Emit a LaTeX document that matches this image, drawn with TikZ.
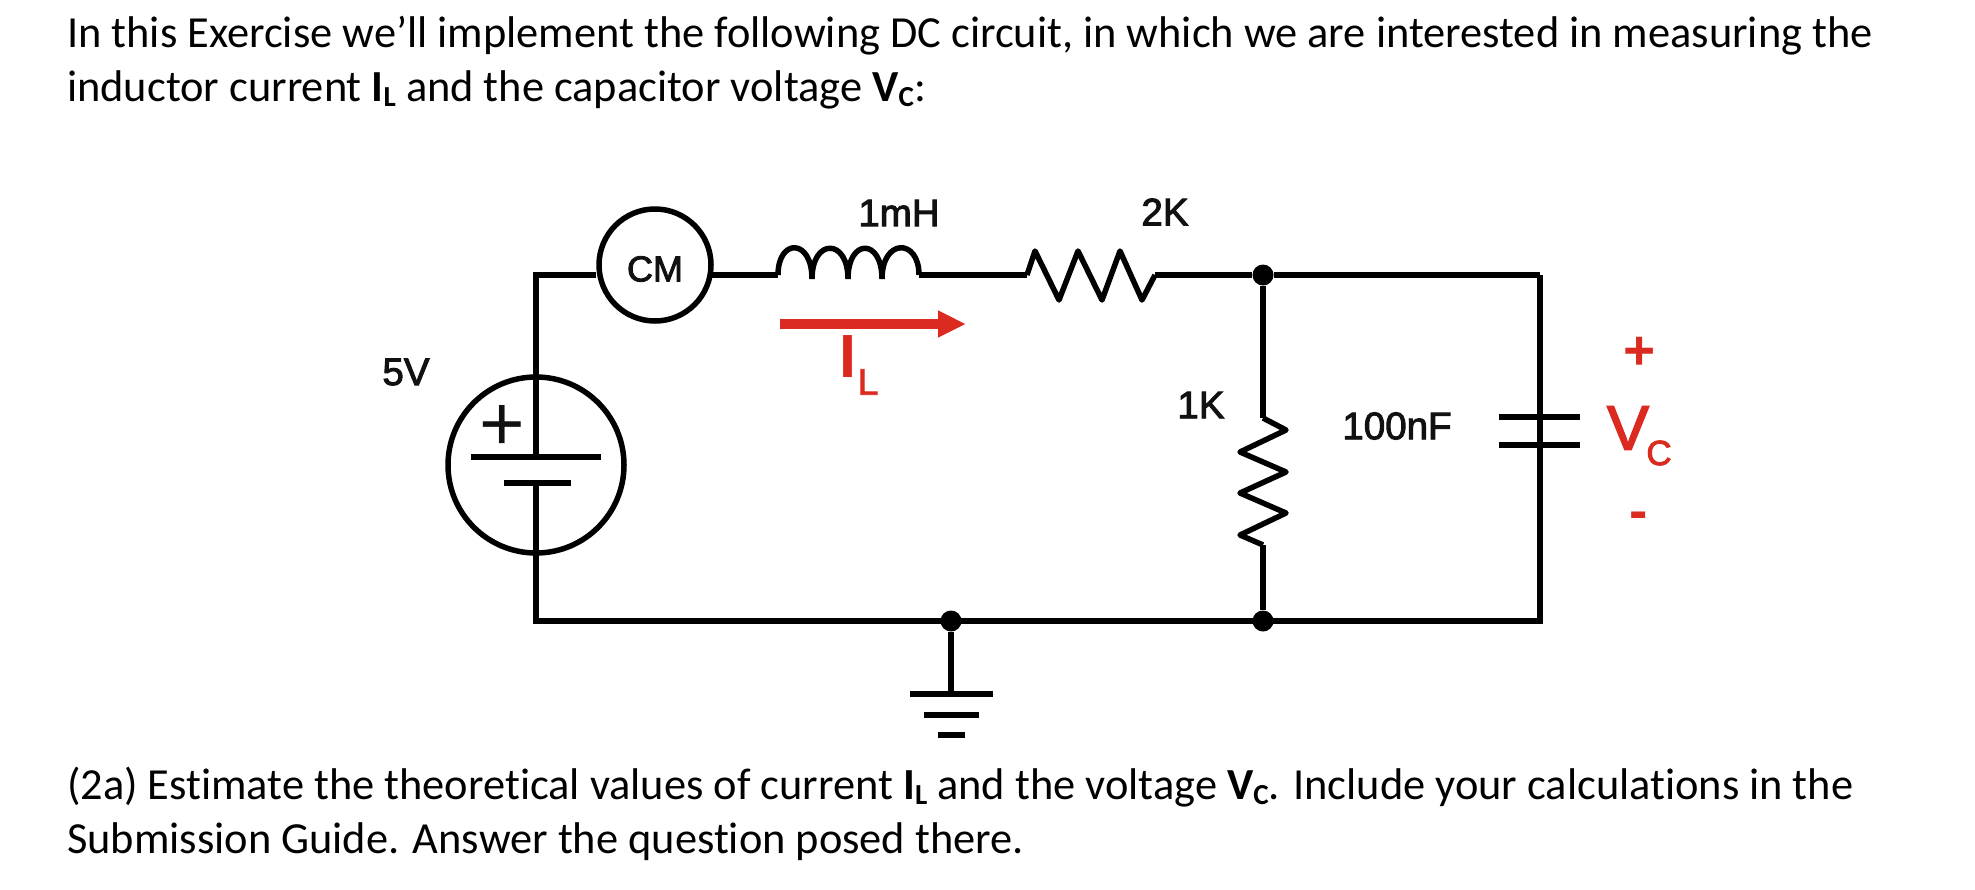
\documentclass[tikz,border=0pt]{standalone}
\usepackage{fontspec}
\setmainfont{Carlito}[Ligatures=TeX,RawFeature={-liga}]
\newfontfamily\arialf{Liberation Sans}[RawFeature={embolden=2.5}]
\newfontfamily\arialp{Liberation Sans}
\usetikzlibrary{arrows.meta}
\definecolor{redc}{RGB}{219,43,33}
\definecolor{inkc}{RGB}{17,17,17}
\newcommand{\subb}[1]{\raisebox{-0.13em}{\fontsize{29}{29}\selectfont #1}}
\tikzset{
  body/.style={anchor=base west,inner sep=0pt,font=\fontsize{44.4}{50}\selectfont,text=black},
  lab/.style={inner sep=0pt,text=inkc,font=\arialf\fontsize{38.5}{38.5}\selectfont},
  rlab/.style={inner sep=0pt,text=redc,font=\arialf\fontsize{#1}{#1}\selectfont},
  wire/.style={draw=black,line width=6.5pt,line cap=butt,line join=miter},
  thinw/.style={draw=black,line width=5.5pt,line join=round},
  ring/.style={circle,draw=black,line width=5.5pt,inner sep=0pt,fill=none},
  dot/.style={circle,fill=black,inner sep=0pt,minimum size=21pt},
}
\begin{document}
\begin{tikzpicture}[x=1pt,y=-1pt]
\useasboundingbox (0,0) rectangle (1975,889);
% body text
\node[body] (t1) at (67,47) {In this Exercise we’ll implement the following DC circuit, in which we are interested in measuring the};
\node[body] (t2) at (67,101) {inductor current \textbf{I\subb{L}} and the capacitor voltage \textbf{V\subb{C}}:};
\node[body] (t3) at (67,799) {(2a) Estimate the theoretical values of current \textbf{I\subb{L}} and the voltage \textbf{V\subb{C}}. Include your calculations in the};
\node[body] (t4) at (67,853) {Submission Guide. Answer the question posed there.};
% junctions and corners
\coordinate (tl) at (536,275);
\coordinate (bl) at (536,621);
\coordinate (tr) at (1540,275);
\coordinate (br) at (1540,621);
\node[dot] (jt) at (1263,275) {};
\node[dot] (jb) at (1263,621) {};
\node[dot] (jg) at (951,621) {};
% meter and source
\node[ring,minimum size=112pt] (cm) at (655,265) {};
\node[lab,font=\arialf\fontsize{36}{36}\selectfont] (cmt) at (655,269) {CM};
\node[ring,minimum size=176pt] (src) at (536,465) {};
\coordinate (sp) at (536,457);
\coordinate (sm) at (536,483);
\coordinate (spl) at (471,457); \coordinate (spr) at (601,457);
\coordinate (sml) at (504,483); \coordinate (smr) at (571,483);
\draw[wire] (cm.west |- tl) -- (tl) -- (sp);
\draw[wire] (spl) -- (spr);
\draw[wire] (sml) -- (smr);
\draw[wire] (sm) -- (bl) -- (br) -- (tr) -- (1540,417);
\node[inner sep=0pt,text=inkc,font=\arialp\fontsize{78}{78}\selectfont] (plus) at (502,428) {+};
% inductor
\coordinate (la) at (778,275);
\coordinate (lb) at (919,275);
\draw[wire] (712,275) -- (la);
\draw[thinw] (la) .. controls (778,238) and (812,238) .. (812,279)
  (812,279) .. controls (812,238) and (848,238) .. (848,279)
  (848,279) .. controls (848,238) and (882,238) .. (882,279)
  (882,279) .. controls (882,238) and (919,238) .. (lb);
% resistor 2K
\coordinate (ra) at (1027,275);
\coordinate (rb) at (1155,275);
\draw[wire] (lb) -- (ra);
\draw[thinw] (ra) -- (1035,251) -- (1059,300) -- (1078,251) -- (1102,300) -- (1120,251) -- (1142,300) -- (rb);
\draw[wire] (rb) -- (jt) -- (tr);
% resistor 1K
\coordinate (va) at (1263,418);
\coordinate (vb) at (1263,545);
\draw[wire] (jt) -- (va);
\draw[thinw] (va) -- (1286,430) -- (1240,452) -- (1286,472) -- (1240,493) -- (1286,513) -- (1240,535) -- (vb);
\draw[wire] (vb) -- (jb);
% capacitor
\coordinate (c1l) at (1499,417); \coordinate (c1r) at (1580,417);
\coordinate (c2l) at (1499,445); \coordinate (c2r) at (1580,445);
\draw[wire] (c1l) -- (c1r);
\draw[wire] (c2l) -- (c2r);
% ground
\coordinate (g1) at (951,694);
\coordinate (g1l) at (910,694); \coordinate (g1r) at (993,694);
\coordinate (g2l) at (924,715); \coordinate (g2r) at (979,715);
\coordinate (g3l) at (938,735); \coordinate (g3r) at (965,735);
\draw[wire] (jg) -- (g1);
\draw[wire] (g1l) -- (g1r);
\draw[wire] (g2l) -- (g2r);
\draw[wire] (g3l) -- (g3r);
% red current arrow
\coordinate (ia) at (780,324);
\coordinate (ib) at (966,324);
\draw[draw=redc,line width=10pt,-{Triangle[length=28pt,width=25pt]}] (ia) -- (ib);
% labels
\node[lab] (l1) at (899,213) {1mH};
\node[lab] (l2) at (1165,212) {2K};
\node[lab] (l3) at (406,372) {5V};
\node[lab] (l4) at (1201,405) {1K};
\node[lab] (l5) at (1397,426) {100nF};
\node[rlab=61,font=\arialp\bfseries\fontsize{61}{61}\selectfont] (il) at (848,357) {I};
\node[rlab=37] (ils) at (868,382) {L};
\node[rlab=55,font=\arialp\bfseries\fontsize{55}{55}\selectfont] (vp) at (1640,353) {+};
\node[rlab=63] (vc) at (1628,428) {V};
\node[rlab=35] (vcs) at (1659,453) {C};
\node[rlab=55,font=\arialp\bfseries\fontsize{55}{55}\selectfont] (vm) at (1639,521) {-};
\end{tikzpicture}
\end{document}
